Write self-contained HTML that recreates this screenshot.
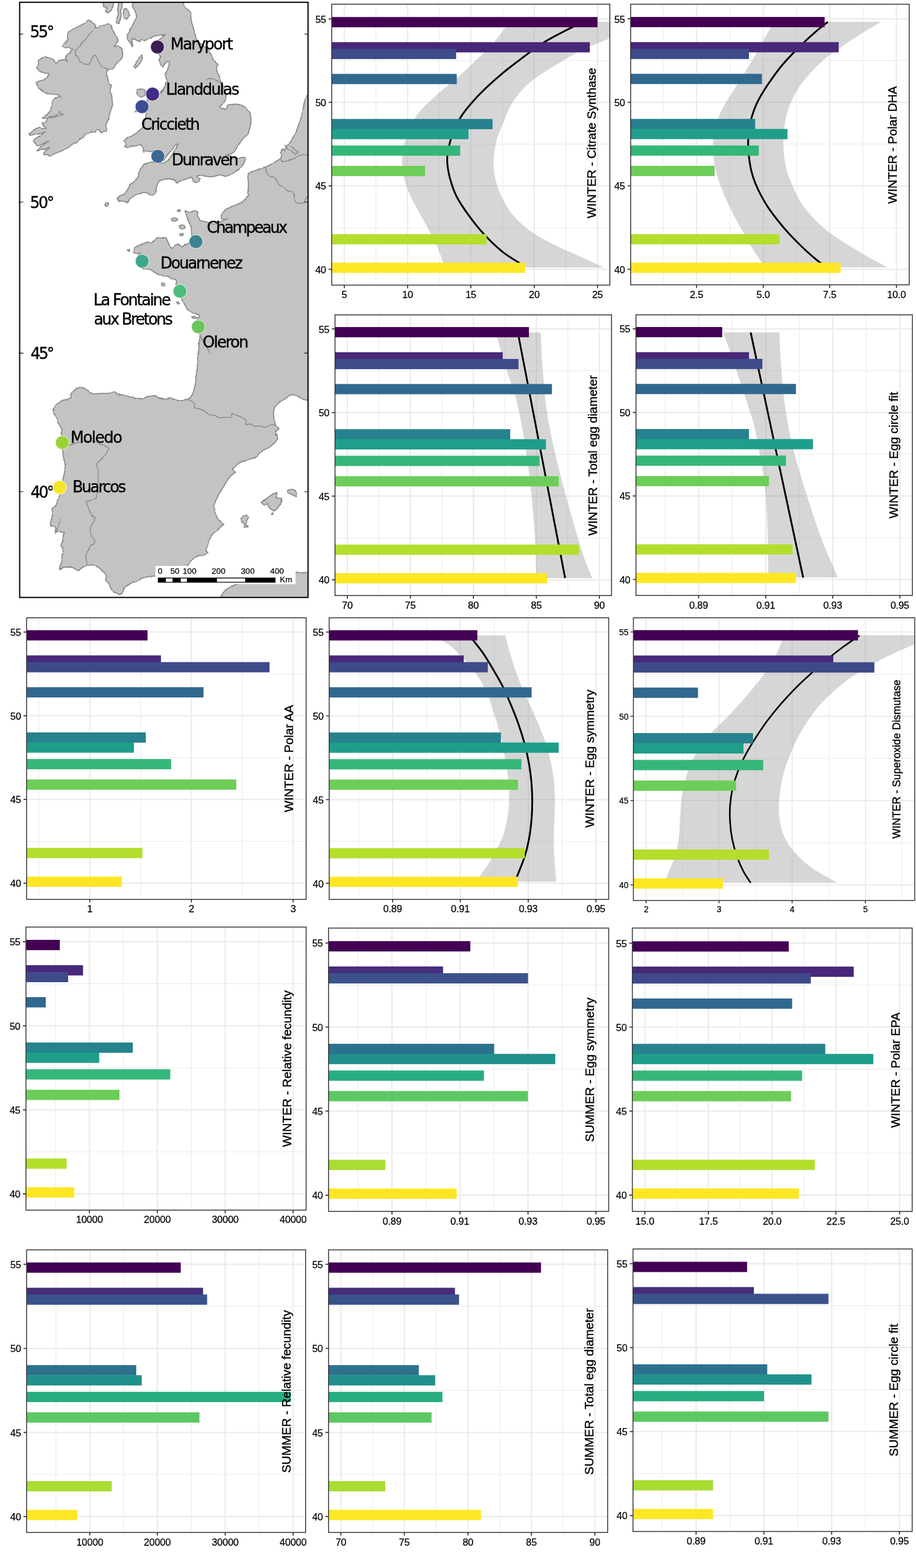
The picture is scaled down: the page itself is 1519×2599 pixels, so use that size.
<!DOCTYPE html>
<html lang="en"><head><meta charset="utf-8"><title>Latitudinal trends figure</title>
<style>html,body{margin:0;padding:0;background:#fff}body{width:1519px;height:2599px;overflow:hidden}svg{display:block}text{white-space:pre}</style></head>
<body>
<svg width="1519" height="2599" viewBox="0 0 1519 2599">
<rect width="1519" height="2599" fill="#fff"/>
<clipPath id="c1"><rect x="550.1" y="6.9" width="461.2" height="465.7"/></clipPath>
<g clip-path="url(#c1)">
<path d="M550.1 377.22H1011.3M550.1 238.85H1011.3M550.1 100.48H1011.3M623.45 6.9V472.6M728.35 6.9V472.6M833.4 6.9V472.6M938.4 6.9V472.6" stroke="#ebebeb" stroke-width="1.1" fill="none"/>
<path d="M550.1 446.4H1011.3M550.1 308.03H1011.3M550.1 169.67H1011.3M550.1 31.3H1011.3M571 6.9V472.6M675.9 6.9V472.6M780.8 6.9V472.6M886 6.9V472.6M990.8 6.9V472.6" stroke="#ebebeb" stroke-width="2.2" fill="none"/>
<path d="M845.37 36.36 C844.25 37.77 843.08 39.19 838.66 44.83 C834.25 50.48 827.66 60.54 818.89 70.25 C810.13 79.96 795.89 93.55 786.06 103.08 C776.24 112.61 770.65 118.03 759.94 127.44 C749.23 136.85 733.46 148.74 721.81 159.57 C710.16 170.39 697.98 181.34 690.04 192.4 C682.1 203.46 677.98 214.46 674.15 225.93 C670.33 237.41 667.98 250.64 667.09 261.24 C666.21 271.83 667.09 280.06 668.86 289.48 C670.62 298.89 673.57 307.72 677.68 317.72 C681.8 327.72 687.98 338.9 693.57 349.49 C699.16 360.08 705.93 371.26 711.22 381.26 C716.52 391.26 721.22 400.09 725.34 409.5 C729.46 418.92 733.7 432.1 735.93 437.75 C738.17 443.39 738.29 442.45 738.76 443.39 L1001.41 443.39 C993.64 439.81 969.63 428.69 954.81 421.86 C939.98 415.04 925.39 409.21 912.44 402.44 C899.5 395.68 887.44 388.91 877.14 381.26 C866.85 373.61 858.02 365.38 850.67 356.55 C843.31 347.73 837.72 337.72 833.01 328.31 C828.31 318.9 824.84 310.07 822.42 300.07 C820.01 290.07 818.36 279.47 818.54 268.3 C818.72 257.12 820.54 244.41 823.48 232.99 C826.42 221.58 832.37 209.34 836.19 199.81 C840.02 190.28 841.84 183.87 846.43 175.8 C851.02 167.74 857.08 158.98 863.73 151.45 C870.38 143.91 877.67 137.27 886.32 130.62 C894.97 123.97 904.97 118.2 915.62 111.55 C926.27 104.91 939.8 96.49 950.22 90.73 C960.63 84.96 966.75 82.37 978.11 76.96 C989.46 71.55 1011.64 65.01 1018.35 58.25 C1025.06 51.48 1018.35 40.01 1018.35 36.36Z" fill="#999999" fill-opacity="0.4" stroke="none"/>
<path d="M968.93 36.36 C965.69 37.77 956.57 41.48 949.51 44.83 C942.45 48.19 934.51 52.25 926.56 56.48 C918.62 60.72 909.74 65.31 901.85 70.25 C893.97 75.19 886.61 80.78 879.26 86.14 C871.91 91.49 865.32 96.55 857.73 102.38 C850.14 108.2 841.66 114.5 833.72 121.09 C825.78 127.68 817.72 134.74 810.07 141.91 C802.42 149.09 794.71 156.62 787.83 164.15 C780.94 171.69 774.35 179.16 768.76 187.1 C763.17 195.04 758.23 202.99 754.29 211.81 C750.35 220.64 747.23 231.11 745.11 240.05 C742.99 249 741.46 256.47 741.58 265.47 C741.7 274.47 743.23 284.06 745.82 294.07 C748.41 304.07 751.88 315.01 757.11 325.49 C762.35 335.96 769.65 346.43 777.24 356.9 C784.83 367.38 793.48 378.38 802.65 388.32 C811.83 398.27 822.89 408.86 832.31 416.56 C841.72 424.27 853.43 430.69 859.14 434.57 C864.84 438.45 865.32 438.98 866.55 439.86" fill="none" stroke="#000" stroke-width="3" stroke-linecap="butt"/>
<rect x="545.1" y="28.23" width="445.7" height="16.94" fill="#440154"/>
<rect x="545.1" y="69.88" width="433" height="16.94" fill="#482878"/>
<rect x="545.1" y="80.95" width="211.3" height="16.94" fill="#3E4A89"/>
<rect x="545.1" y="122.46" width="212.4" height="16.94" fill="#31688E"/>
<rect x="545.1" y="197.17" width="271.7" height="16.94" fill="#26828E"/>
<rect x="545.1" y="213.78" width="231.8" height="16.94" fill="#1F9E89"/>
<rect x="545.1" y="241.17" width="218" height="16.94" fill="#35B779"/>
<rect x="545.1" y="274.94" width="159.8" height="16.94" fill="#6DCD59"/>
<rect x="545.1" y="388.12" width="261.8" height="16.94" fill="#B4DE2C"/>
<rect x="545.1" y="435.44" width="325.7" height="16.94" fill="#FDE725"/>
</g>
<rect x="550.1" y="6.9" width="461.2" height="465.7" fill="none" stroke="#333" stroke-width="1.5"/>
<path d="M544.95 446.4H550.1M544.95 308.03H550.1M544.95 169.67H550.1M544.95 31.3H550.1M571 472.6V477.75M675.9 472.6V477.75M780.8 472.6V477.75M886 472.6V477.75M990.8 472.6V477.75" stroke="#333" stroke-width="1.7" fill="none"/>
<g font-family="'Liberation Sans', Arial, Helvetica, sans-serif" font-size="16.4" fill="#000" stroke="#000" stroke-width="0.25" letter-spacing="-0.2">
<text x="540.8" y="452.71" text-anchor="end">40</text>
<text x="540.8" y="314.35" text-anchor="end">45</text>
<text x="540.8" y="175.98" text-anchor="end">50</text>
<text x="540.8" y="37.61" text-anchor="end">55</text>
<text x="571" y="494.3" text-anchor="middle">5</text>
<text x="675.9" y="494.3" text-anchor="middle">10</text>
<text x="780.8" y="494.3" text-anchor="middle">15</text>
<text x="886" y="494.3" text-anchor="middle">20</text>
<text x="990.8" y="494.3" text-anchor="middle">25</text>
</g>
<text transform="translate(988 237) rotate(-90)" text-anchor="middle" font-family="'Liberation Sans', Arial, Helvetica, sans-serif" font-size="20.4" fill="#000" stroke="#000" stroke-width="0.4">WINTER - Citrate Synthase</text>
<clipPath id="c2"><rect x="1045.8" y="7" width="461.9" height="465.1"/></clipPath>
<g clip-path="url(#c2)">
<path d="M1045.8 377.2H1507.7M1045.8 238.8H1507.7M1045.8 100.4H1507.7M1099.73 7V472.1M1210.35 7V472.1M1320.8 7V472.1M1431.25 7V472.1" stroke="#ebebeb" stroke-width="1.1" fill="none"/>
<path d="M1045.8 446.4H1507.7M1045.8 308H1507.7M1045.8 169.6H1507.7M1045.8 31.2H1507.7M1155 7V472.1M1265.7 7V472.1M1375.9 7V472.1M1486.6 7V472.1" stroke="#ebebeb" stroke-width="2.2" fill="none"/>
<path d="M1281.87 36.29 C1281.29 37.76 1280.7 40.58 1278.35 45.1 C1276 49.62 1271.6 56.55 1267.78 63.42 C1263.96 70.29 1260.15 78.1 1255.45 86.32 C1250.75 94.55 1245.17 103.65 1239.59 112.75 C1234.01 121.85 1227.85 131.54 1221.98 140.94 C1216.1 150.33 1209.64 159.73 1204.36 169.12 C1199.07 178.52 1193.79 187.92 1190.26 197.31 C1186.74 206.71 1184.51 216.1 1183.22 225.5 C1181.93 234.89 1181.93 244.29 1182.51 253.69 C1183.1 263.08 1184.57 272.48 1186.74 281.87 C1188.91 291.27 1192.03 300.67 1195.55 310.06 C1199.07 319.46 1203.48 328.85 1207.88 338.25 C1212.29 347.64 1217.28 357.63 1221.98 366.44 C1226.67 375.24 1231.37 382.88 1236.07 391.1 C1240.77 399.32 1245.47 408.13 1250.16 415.76 C1254.86 423.4 1261.5 432.32 1264.26 436.9 C1267.02 441.48 1266.31 442.19 1266.72 443.25 L1472.14 443.25 C1466.85 440.43 1451.59 432.68 1440.43 426.33 C1429.27 419.99 1416.35 412.24 1405.19 405.19 C1394.04 398.15 1383.17 391.69 1373.48 384.05 C1363.79 376.42 1354.69 367.61 1347.06 359.39 C1339.42 351.17 1333.26 343.53 1327.68 334.73 C1322.1 325.92 1317.58 315.93 1313.58 306.54 C1309.59 297.14 1306.07 288.33 1303.72 278.35 C1301.37 268.37 1300.08 257.21 1299.49 246.64 C1298.9 236.07 1299.02 225.5 1300.2 214.93 C1301.37 204.36 1303.13 193.79 1306.54 183.22 C1309.94 172.65 1314.76 161.49 1320.63 151.51 C1326.5 141.52 1334.14 132.13 1341.77 123.32 C1349.41 114.51 1357.04 106.58 1366.44 98.66 C1375.83 90.73 1386.99 83.39 1398.15 75.75 C1409.3 68.12 1422.81 59.43 1433.38 52.85 C1443.95 46.27 1456.87 39.05 1461.57 36.29Z" fill="#999999" fill-opacity="0.4" stroke="none"/>
<path d="M1372.78 36.29 C1369.37 39.05 1358.98 47.16 1352.34 52.85 C1345.71 58.55 1339.42 64.3 1332.96 70.47 C1326.5 76.63 1319.75 83.39 1313.58 89.85 C1307.42 96.31 1301.55 102.47 1295.97 109.23 C1290.39 115.98 1285.1 123.32 1280.11 130.37 C1275.12 137.41 1270.31 144.46 1266.02 151.51 C1261.73 158.55 1257.62 165.6 1254.39 172.65 C1251.16 179.69 1248.64 186.74 1246.64 193.79 C1244.64 200.84 1243.41 207.88 1242.41 214.93 C1241.41 221.98 1240.77 229.02 1240.65 236.07 C1240.53 243.12 1240.88 249.58 1241.71 257.21 C1242.53 264.84 1243.82 274.24 1245.58 281.87 C1247.34 289.51 1249.52 295.97 1252.28 303.01 C1255.04 310.06 1258.38 317.11 1262.14 324.15 C1265.9 331.2 1270.07 338.25 1274.83 345.3 C1279.58 352.34 1285.04 359.39 1290.68 366.44 C1296.32 373.48 1302.49 380.82 1308.65 387.58 C1314.82 394.33 1321.45 400.91 1327.68 406.96 C1333.9 413 1340.6 419.11 1346 423.87 C1351.4 428.62 1356.22 432.27 1360.09 435.49 C1363.97 438.72 1367.73 441.95 1369.25 443.25" fill="none" stroke="#000" stroke-width="3" stroke-linecap="butt"/>
<rect x="1040.8" y="28.13" width="326.69" height="16.94" fill="#440154"/>
<rect x="1040.8" y="69.79" width="349.95" height="16.94" fill="#482878"/>
<rect x="1040.8" y="80.86" width="201.26" height="16.94" fill="#3E4A89"/>
<rect x="1040.8" y="122.38" width="222.75" height="16.94" fill="#31688E"/>
<rect x="1040.8" y="197.11" width="211.48" height="16.94" fill="#26828E"/>
<rect x="1040.8" y="213.72" width="265.03" height="16.94" fill="#1F9E89"/>
<rect x="1040.8" y="241.13" width="217.47" height="16.94" fill="#35B779"/>
<rect x="1040.8" y="274.89" width="144.18" height="16.94" fill="#6DCD59"/>
<rect x="1040.8" y="388.11" width="252" height="16.94" fill="#B4DE2C"/>
<rect x="1040.8" y="435.44" width="353.12" height="16.94" fill="#FDE725"/>
</g>
<rect x="1045.8" y="7" width="461.9" height="465.1" fill="none" stroke="#333" stroke-width="1.5"/>
<path d="M1040.65 446.4H1045.8M1040.65 308H1045.8M1040.65 169.6H1045.8M1040.65 31.2H1045.8M1155 472.1V477.25M1265.7 472.1V477.25M1375.9 472.1V477.25M1486.6 472.1V477.25" stroke="#333" stroke-width="1.7" fill="none"/>
<g font-family="'Liberation Sans', Arial, Helvetica, sans-serif" font-size="16.4" fill="#000" stroke="#000" stroke-width="0.25" letter-spacing="-0.2">
<text x="1036.5" y="452.71" text-anchor="end">40</text>
<text x="1036.5" y="314.31" text-anchor="end">45</text>
<text x="1036.5" y="175.91" text-anchor="end">50</text>
<text x="1036.5" y="37.51" text-anchor="end">55</text>
<text x="1155" y="493.8" text-anchor="middle">2.5</text>
<text x="1265.7" y="493.8" text-anchor="middle">5.0</text>
<text x="1375.9" y="493.8" text-anchor="middle">7.5</text>
<text x="1486.6" y="493.8" text-anchor="middle">10.0</text>
</g>
<text transform="translate(1487.3 240) rotate(-90)" text-anchor="middle" font-family="'Liberation Sans', Arial, Helvetica, sans-serif" font-size="20.4" fill="#000" stroke="#000" stroke-width="0.4">WINTER - Polar DHA</text>
<clipPath id="c3"><rect x="555.54" y="521.89" width="458.57" height="465.28"/></clipPath>
<g clip-path="url(#c3)">
<path d="M555.54 891.74H1014.11M555.54 753.12H1014.11M555.54 614.5H1014.11M628.26 521.89V987.17M732.76 521.89V987.17M837.25 521.89V987.17M941.74 521.89V987.17" stroke="#ebebeb" stroke-width="1.1" fill="none"/>
<path d="M555.54 961.05H1014.11M555.54 822.43H1014.11M555.54 683.81H1014.11M555.54 545.19H1014.11M576.01 521.89V987.17M680.51 521.89V987.17M785 521.89V987.17M889.5 521.89V987.17M993.99 521.89V987.17" stroke="#ebebeb" stroke-width="2.2" fill="none"/>
<path d="M822.42 551.19 C822.72 552.48 821.25 548.66 824.19 558.95 C827.13 569.25 835.07 596.9 840.07 612.97 C845.08 629.03 849.78 638.85 854.2 655.33 C858.61 671.8 862.73 690.63 866.55 711.81 C870.38 732.99 874.2 758.88 877.14 782.42 C880.08 805.95 882.44 833.02 884.2 853.02 C885.97 873.03 886.85 884.91 887.73 902.44 C888.62 919.98 889.2 948.93 889.5 958.22 L981.99 958.22 C979.52 951.87 972.28 935.27 967.16 920.1 C962.04 904.92 956.87 886.56 951.28 867.14 C945.69 847.73 938.92 823.6 933.63 803.6 C928.33 783.59 923.92 767.12 919.5 747.11 C915.09 727.11 910.38 705.93 907.15 683.57 C903.91 661.21 901.85 635.03 900.09 612.97 C898.32 590.9 897.15 561.48 896.56 551.19Z" fill="#999999" fill-opacity="0.4" stroke="none"/>
<path d="M858.78 551.19 C871.85 619.03 924.09 890.38 937.16 958.22" fill="none" stroke="#000" stroke-width="3" stroke-linecap="butt"/>
<rect x="550.54" y="542.11" width="326.6" height="16.97" fill="#440154"/>
<rect x="550.54" y="583.83" width="283.18" height="16.97" fill="#482878"/>
<rect x="550.54" y="594.92" width="309.3" height="16.97" fill="#3E4A89"/>
<rect x="550.54" y="636.51" width="364.73" height="16.97" fill="#31688E"/>
<rect x="550.54" y="711.36" width="295.54" height="16.97" fill="#26828E"/>
<rect x="550.54" y="728" width="354.84" height="16.97" fill="#1F9E89"/>
<rect x="550.54" y="755.44" width="344.25" height="16.97" fill="#35B779"/>
<rect x="550.54" y="789.27" width="376.03" height="16.97" fill="#6DCD59"/>
<rect x="550.54" y="902.66" width="409.56" height="16.97" fill="#B4DE2C"/>
<rect x="550.54" y="950.07" width="356.61" height="16.97" fill="#FDE725"/>
</g>
<rect x="555.54" y="521.89" width="458.57" height="465.28" fill="none" stroke="#333" stroke-width="1.5"/>
<path d="M550.39 961.05H555.54M550.39 822.43H555.54M550.39 683.81H555.54M550.39 545.19H555.54M576.01 987.17V992.32M680.51 987.17V992.32M785 987.17V992.32M889.5 987.17V992.32M993.99 987.17V992.32" stroke="#333" stroke-width="1.7" fill="none"/>
<g font-family="'Liberation Sans', Arial, Helvetica, sans-serif" font-size="16.4" fill="#000" stroke="#000" stroke-width="0.25" letter-spacing="-0.2">
<text x="546.24" y="967.36" text-anchor="end">40</text>
<text x="546.24" y="828.74" text-anchor="end">45</text>
<text x="546.24" y="690.12" text-anchor="end">50</text>
<text x="546.24" y="551.5" text-anchor="end">55</text>
<text x="576.01" y="1008.87" text-anchor="middle">70</text>
<text x="680.51" y="1008.87" text-anchor="middle">75</text>
<text x="785" y="1008.87" text-anchor="middle">80</text>
<text x="889.5" y="1008.87" text-anchor="middle">85</text>
<text x="993.99" y="1008.87" text-anchor="middle">90</text>
</g>
<text transform="translate(990.11 754.88) rotate(-90)" text-anchor="middle" font-family="'Liberation Sans', Arial, Helvetica, sans-serif" font-size="20.4" fill="#000" stroke="#000" stroke-width="0.4">WINTER - Total egg diameter</text>
<clipPath id="c4"><rect x="1054.61" y="521.85" width="458.4" height="465.09"/></clipPath>
<g clip-path="url(#c4)">
<path d="M1054.61 891.28H1513.01M1054.61 752.81H1513.01M1054.61 614.34H1513.01M1102.94 521.85V986.94M1214.22 521.85V986.94M1325.39 521.85V986.94M1436.55 521.85V986.94" stroke="#ebebeb" stroke-width="1.1" fill="none"/>
<path d="M1054.61 960.51H1513.01M1054.61 822.04H1513.01M1054.61 683.57H1513.01M1054.61 545.1H1513.01M1158.55 521.85V986.94M1269.89 521.85V986.94M1380.88 521.85V986.94M1492.22 521.85V986.94" stroke="#ebebeb" stroke-width="2.2" fill="none"/>
<path d="M1199.07 551.09 C1201.13 556.67 1207 571.94 1211.41 584.56 C1215.81 597.19 1220.8 612.75 1225.5 626.84 C1230.2 640.94 1235.19 655.03 1239.59 669.12 C1244 683.22 1248.11 694.96 1251.92 711.41 C1255.74 727.85 1259.56 750.16 1262.49 767.78 C1265.43 785.4 1267.78 797.14 1269.54 817.11 C1271.3 837.07 1272.3 864.2 1273.07 887.58 C1273.83 910.95 1273.95 945.71 1274.12 957.34 L1389.34 957.34 C1384.93 946.89 1370.55 914.47 1362.91 894.62 C1355.28 874.77 1349.7 857.04 1343.53 838.25 C1337.37 819.46 1331.2 800.08 1325.92 781.87 C1320.63 763.67 1315.93 747.81 1311.82 729.02 C1307.71 710.23 1304.01 689.68 1301.25 669.12 C1298.49 648.57 1296.73 625.38 1295.26 605.7 C1293.79 586.03 1292.91 560.19 1292.44 551.09Z" fill="#999999" fill-opacity="0.4" stroke="none"/>
<path d="M1244.88 551.09 C1259.38 618.8 1317.4 889.63 1331.91 957.34" fill="none" stroke="#000" stroke-width="3" stroke-linecap="butt"/>
<rect x="1049.61" y="542.03" width="148.05" height="16.95" fill="#440154"/>
<rect x="1049.61" y="583.71" width="192.45" height="16.95" fill="#482878"/>
<rect x="1049.61" y="594.78" width="214.64" height="16.95" fill="#3E4A89"/>
<rect x="1049.61" y="636.32" width="270.31" height="16.95" fill="#31688E"/>
<rect x="1049.61" y="711.1" width="192.45" height="16.95" fill="#26828E"/>
<rect x="1049.61" y="727.71" width="298.5" height="16.95" fill="#1F9E89"/>
<rect x="1049.61" y="755.13" width="253.75" height="16.95" fill="#35B779"/>
<rect x="1049.61" y="788.92" width="225.57" height="16.95" fill="#6DCD59"/>
<rect x="1049.61" y="902.19" width="264.68" height="16.95" fill="#B4DE2C"/>
<rect x="1049.61" y="949.54" width="270.31" height="16.95" fill="#FDE725"/>
</g>
<rect x="1054.61" y="521.85" width="458.4" height="465.09" fill="none" stroke="#333" stroke-width="1.5"/>
<path d="M1049.46 960.51H1054.61M1049.46 822.04H1054.61M1049.46 683.57H1054.61M1049.46 545.1H1054.61M1158.55 986.94V992.09M1269.89 986.94V992.09M1380.88 986.94V992.09M1492.22 986.94V992.09" stroke="#333" stroke-width="1.7" fill="none"/>
<g font-family="'Liberation Sans', Arial, Helvetica, sans-serif" font-size="16.4" fill="#000" stroke="#000" stroke-width="0.25" letter-spacing="-0.2">
<text x="1045.31" y="966.83" text-anchor="end">40</text>
<text x="1045.31" y="828.35" text-anchor="end">45</text>
<text x="1045.31" y="689.88" text-anchor="end">50</text>
<text x="1045.31" y="551.41" text-anchor="end">55</text>
<text x="1158.55" y="1008.64" text-anchor="middle">0.89</text>
<text x="1269.89" y="1008.64" text-anchor="middle">0.91</text>
<text x="1380.88" y="1008.64" text-anchor="middle">0.93</text>
<text x="1492.22" y="1008.64" text-anchor="middle">0.95</text>
</g>
<text transform="translate(1489.05 754.39) rotate(-90)" text-anchor="middle" font-family="'Liberation Sans', Arial, Helvetica, sans-serif" font-size="20.4" fill="#000" stroke="#000" stroke-width="0.4">WINTER - Egg circle fit</text>
<clipPath id="c5"><rect x="44.13" y="1024.01" width="463.52" height="466.69"/></clipPath>
<g clip-path="url(#c5)">
<path d="M44.13 1394.5H507.64M44.13 1255.76H507.64M44.13 1117.03H507.64M64.69 1024.01V1490.7M233.17 1024.01V1490.7M401.74 1024.01V1490.7" stroke="#ebebeb" stroke-width="1.1" fill="none"/>
<path d="M44.13 1463.87H507.64M44.13 1325.13H507.64M44.13 1186.4H507.64M44.13 1047.66H507.64M148.97 1024.01V1490.7M317.37 1024.01V1490.7M486.11 1024.01V1490.7" stroke="#ebebeb" stroke-width="2.2" fill="none"/>
<rect x="39.13" y="1044.58" width="205.52" height="16.98" fill="#440154"/>
<rect x="39.13" y="1086.34" width="227.76" height="16.98" fill="#482878"/>
<rect x="39.13" y="1097.44" width="407.8" height="16.98" fill="#3E4A89"/>
<rect x="39.13" y="1139.06" width="298.36" height="16.98" fill="#31688E"/>
<rect x="39.13" y="1213.98" width="202.69" height="16.98" fill="#26828E"/>
<rect x="39.13" y="1230.62" width="182.92" height="16.98" fill="#1F9E89"/>
<rect x="39.13" y="1258.09" width="244.7" height="16.98" fill="#35B779"/>
<rect x="39.13" y="1291.95" width="352.73" height="16.98" fill="#6DCD59"/>
<rect x="39.13" y="1405.43" width="197.04" height="16.98" fill="#B4DE2C"/>
<rect x="39.13" y="1452.88" width="163.15" height="16.98" fill="#FDE725"/>
</g>
<rect x="44.13" y="1024.01" width="463.52" height="466.69" fill="none" stroke="#333" stroke-width="1.5"/>
<path d="M38.98 1463.87H44.13M38.98 1325.13H44.13M38.98 1186.4H44.13M38.98 1047.66H44.13M148.97 1490.7V1495.85M317.37 1490.7V1495.85M486.11 1490.7V1495.85" stroke="#333" stroke-width="1.7" fill="none"/>
<g font-family="'Liberation Sans', Arial, Helvetica, sans-serif" font-size="16.4" fill="#000" stroke="#000" stroke-width="0.25" letter-spacing="-0.2">
<text x="34.83" y="1470.18" text-anchor="end">40</text>
<text x="34.83" y="1331.45" text-anchor="end">45</text>
<text x="34.83" y="1192.71" text-anchor="end">50</text>
<text x="34.83" y="1053.97" text-anchor="end">55</text>
<text x="148.97" y="1512.4" text-anchor="middle">1</text>
<text x="317.37" y="1512.4" text-anchor="middle">2</text>
<text x="486.11" y="1512.4" text-anchor="middle">3</text>
</g>
<text transform="translate(486.46 1257.35) rotate(-90)" text-anchor="middle" font-family="'Liberation Sans', Arial, Helvetica, sans-serif" font-size="20.4" fill="#000" stroke="#000" stroke-width="0.4">WINTER - Polar AA</text>
<clipPath id="c6"><rect x="545.89" y="1024.01" width="463.52" height="466.69"/></clipPath>
<g clip-path="url(#c6)">
<path d="M545.89 1394.8H1009.41M545.89 1255.94H1009.41M545.89 1117.09H1009.41M594.9 1024.01V1490.7M707.22 1024.01V1490.7M819.66 1024.01V1490.7M932.1 1024.01V1490.7" stroke="#ebebeb" stroke-width="1.1" fill="none"/>
<path d="M545.89 1464.22H1009.41M545.89 1325.37H1009.41M545.89 1186.51H1009.41M545.89 1047.66H1009.41M651.09 1024.01V1490.7M763.35 1024.01V1490.7M875.97 1024.01V1490.7M988.23 1024.01V1490.7" stroke="#ebebeb" stroke-width="2.2" fill="none"/>
<path d="M718.87 1052.95 C720.64 1054.25 724.76 1057.78 729.46 1060.72 C734.17 1063.66 740.64 1065.43 747.11 1070.6 C753.59 1075.78 761.24 1084.14 768.3 1091.79 C775.36 1099.43 783.01 1107.08 789.48 1116.5 C795.95 1125.91 802.13 1137.09 807.13 1148.27 C812.13 1159.45 815.66 1171.8 819.48 1183.57 C823.31 1195.34 827.13 1207.11 830.07 1218.87 C833.02 1230.64 835.08 1242.41 837.14 1254.18 C839.19 1265.94 841.25 1277.71 842.43 1289.48 C843.61 1301.24 844.31 1314.19 844.2 1324.78 C844.08 1335.37 843.2 1343.61 841.72 1353.02 C840.25 1362.43 838.19 1372.44 835.37 1381.26 C832.55 1390.09 828.9 1397.74 824.78 1405.97 C820.66 1414.21 815.66 1422.8 810.66 1430.69 C805.66 1438.57 798.3 1448.16 794.77 1453.28 C791.24 1458.4 790.36 1460.05 789.48 1461.4 L922.57 1461.4 C922.04 1455.1 920.1 1435.8 919.39 1423.63 C918.68 1411.45 918.33 1399.5 918.33 1388.32 C918.33 1377.14 919.09 1367.14 919.39 1356.55 C919.68 1345.96 920.27 1335.37 920.1 1324.78 C919.92 1314.19 919.51 1303.6 918.33 1293.01 C917.15 1282.42 915.39 1271.83 913.03 1261.24 C910.68 1250.64 907.74 1240.05 904.21 1229.46 C900.68 1218.87 896.27 1208.28 891.85 1197.69 C887.44 1187.1 882.44 1176.51 877.73 1165.92 C873.03 1155.33 867.73 1144.15 863.61 1134.15 C859.49 1124.15 856.26 1115.32 853.02 1105.91 C849.79 1096.49 846.67 1086.49 844.2 1077.66 C841.72 1068.84 839.19 1057.07 838.19 1052.95Z" fill="#999999" fill-opacity="0.4" stroke="none"/>
<path d="M778.89 1052.95 C779.77 1054.25 780.65 1056.01 784.18 1060.72 C787.71 1065.43 794.48 1073.08 800.07 1081.19 C805.66 1089.31 812.13 1100.02 817.72 1109.44 C823.31 1118.85 828.6 1127.68 833.6 1137.68 C838.61 1147.68 843.31 1158.86 847.73 1169.45 C852.14 1180.04 856.37 1190.63 860.08 1201.22 C863.79 1211.81 867.14 1222.4 869.97 1232.99 C872.79 1243.58 875.14 1254.18 877.03 1264.77 C878.91 1275.36 880.32 1285.95 881.26 1296.54 C882.2 1307.13 882.67 1317.72 882.67 1328.31 C882.67 1338.9 882.2 1349.49 881.26 1360.08 C880.32 1370.67 878.91 1381.85 877.03 1391.85 C875.14 1401.86 873.26 1409.86 869.97 1420.1 C866.67 1430.33 859.79 1446.4 857.26 1453.28 C854.73 1460.16 855.2 1460.05 854.79 1461.4" fill="none" stroke="#000" stroke-width="3" stroke-linecap="butt"/>
<rect x="540.89" y="1044.58" width="250.7" height="17" fill="#440154"/>
<rect x="540.89" y="1086.37" width="228.11" height="17" fill="#482878"/>
<rect x="540.89" y="1097.48" width="268" height="17" fill="#3E4A89"/>
<rect x="540.89" y="1139.14" width="340.72" height="17" fill="#31688E"/>
<rect x="540.89" y="1214.12" width="289.89" height="17" fill="#26828E"/>
<rect x="540.89" y="1230.78" width="385.56" height="17" fill="#1F9E89"/>
<rect x="540.89" y="1258.27" width="323.78" height="17" fill="#35B779"/>
<rect x="540.89" y="1292.15" width="318.13" height="17" fill="#6DCD59"/>
<rect x="540.89" y="1405.74" width="329.43" height="17" fill="#B4DE2C"/>
<rect x="540.89" y="1453.23" width="318.13" height="17" fill="#FDE725"/>
</g>
<rect x="545.89" y="1024.01" width="463.52" height="466.69" fill="none" stroke="#333" stroke-width="1.5"/>
<path d="M540.74 1464.22H545.89M540.74 1325.37H545.89M540.74 1186.51H545.89M540.74 1047.66H545.89M651.09 1490.7V1495.85M763.35 1490.7V1495.85M875.97 1490.7V1495.85M988.23 1490.7V1495.85" stroke="#333" stroke-width="1.7" fill="none"/>
<g font-family="'Liberation Sans', Arial, Helvetica, sans-serif" font-size="16.4" fill="#000" stroke="#000" stroke-width="0.25" letter-spacing="-0.2">
<text x="536.59" y="1470.54" text-anchor="end">40</text>
<text x="536.59" y="1331.68" text-anchor="end">45</text>
<text x="536.59" y="1192.83" text-anchor="end">50</text>
<text x="536.59" y="1053.97" text-anchor="end">55</text>
<text x="651.09" y="1512.4" text-anchor="middle">0.89</text>
<text x="763.35" y="1512.4" text-anchor="middle">0.91</text>
<text x="875.97" y="1512.4" text-anchor="middle">0.93</text>
<text x="988.23" y="1512.4" text-anchor="middle">0.95</text>
</g>
<text transform="translate(984.7 1257.35) rotate(-90)" text-anchor="middle" font-family="'Liberation Sans', Arial, Helvetica, sans-serif" font-size="20.4" fill="#000" stroke="#000" stroke-width="0.4">WINTER - Egg symmetry</text>
<clipPath id="c7"><rect x="1050.38" y="1023.96" width="466.5" height="468.62"/></clipPath>
<g clip-path="url(#c7)">
<path d="M1050.38 1396.97H1516.89M1050.38 1257.21H1516.89M1050.38 1117.45H1516.89M1131.95 1023.96V1492.57M1252.98 1023.96V1492.57M1374.36 1023.96V1492.57M1495.75 1023.96V1492.57" stroke="#ebebeb" stroke-width="0.99" fill="none"/>
<path d="M1050.38 1466.85H1516.89M1050.38 1327.09H1516.89M1050.38 1187.33H1516.89M1050.38 1047.57H1516.89M1071.53 1023.96V1492.57M1192.38 1023.96V1492.57M1313.58 1023.96V1492.57M1435.14 1023.96V1492.57" stroke="#ebebeb" stroke-width="1.98" fill="none"/>
<path d="M1299.49 1052.85 C1297.73 1057.55 1294.21 1070.47 1288.92 1081.04 C1283.64 1091.61 1276 1104.53 1267.78 1116.27 C1259.56 1128.02 1249.58 1139.76 1239.59 1151.51 C1229.61 1163.25 1218.45 1175.58 1207.88 1186.74 C1197.31 1197.9 1185.57 1207.29 1176.17 1218.45 C1166.78 1229.61 1157.97 1241.94 1151.51 1253.69 C1145.05 1265.43 1140.94 1277.18 1137.41 1288.92 C1133.89 1300.67 1132.01 1312.41 1130.37 1324.15 C1128.72 1335.9 1128.43 1347.64 1127.55 1359.39 C1126.67 1371.13 1126.67 1384.05 1125.08 1394.62 C1123.5 1405.19 1121.26 1413.12 1118.03 1422.81 C1114.8 1432.5 1108.35 1446.01 1105.7 1452.76 C1103.06 1459.51 1102.77 1461.57 1102.18 1463.33 L1389.34 1463.33 C1382.58 1459.51 1359.68 1447.77 1348.82 1440.43 C1337.95 1433.09 1331.2 1426.33 1324.15 1419.29 C1317.11 1412.24 1311.24 1405.78 1306.54 1398.15 C1301.84 1390.51 1298.43 1382.29 1295.97 1373.48 C1293.5 1364.67 1292.21 1354.69 1291.74 1345.3 C1291.27 1335.9 1291.86 1327.68 1293.15 1317.11 C1294.44 1306.54 1296.38 1293.62 1299.49 1281.87 C1302.6 1270.13 1306.54 1258.97 1311.82 1246.64 C1317.11 1234.31 1323.86 1220.21 1331.2 1207.88 C1338.54 1195.55 1347.06 1183.22 1355.87 1172.65 C1364.67 1162.08 1374.07 1153.27 1384.05 1144.46 C1394.04 1135.65 1404.61 1127.43 1415.76 1119.8 C1426.92 1112.16 1439.25 1105.12 1451 1098.66 C1462.74 1092.2 1475.25 1086.32 1486.23 1081.04 C1497.21 1075.75 1509.84 1071.64 1516.89 1066.95 C1523.93 1062.25 1526.58 1055.2 1528.51 1052.85Z" fill="#999999" fill-opacity="0.4" stroke="none"/>
<path d="M1425.28 1053.56 C1420.76 1056.67 1406.78 1065.89 1398.15 1072.23 C1389.51 1078.57 1382 1084.56 1373.48 1091.61 C1364.97 1098.66 1355.87 1106.58 1347.06 1114.51 C1338.25 1122.44 1329.15 1130.66 1320.63 1139.18 C1312.12 1147.69 1303.9 1156.5 1295.97 1165.6 C1288.04 1174.7 1280.11 1184.39 1273.07 1193.79 C1266.02 1203.18 1259.73 1212.58 1253.69 1221.98 C1247.64 1231.37 1241.77 1240.77 1236.77 1250.16 C1231.78 1259.56 1227.38 1268.95 1223.74 1278.35 C1220.1 1287.75 1217.1 1297.14 1214.93 1306.54 C1212.76 1315.93 1211.41 1325.33 1210.7 1334.73 C1210 1344.12 1210.11 1353.52 1210.7 1362.91 C1211.29 1372.31 1212.34 1381.7 1214.22 1391.1 C1216.1 1400.5 1218.92 1410.48 1221.98 1419.29 C1225.03 1428.1 1228.73 1436.61 1232.55 1443.95 C1236.36 1451.29 1242.82 1460.1 1244.88 1463.33" fill="none" stroke="#000" stroke-width="2.7" stroke-linecap="butt"/>
<rect x="1045.38" y="1044.46" width="377.43" height="17.11" fill="#440154"/>
<rect x="1045.38" y="1086.53" width="336.55" height="17.11" fill="#482878"/>
<rect x="1045.38" y="1097.71" width="404.56" height="17.11" fill="#3E4A89"/>
<rect x="1045.38" y="1139.64" width="112.11" height="17.11" fill="#31688E"/>
<rect x="1045.38" y="1215.11" width="203.37" height="17.11" fill="#26828E"/>
<rect x="1045.38" y="1231.88" width="187.51" height="17.11" fill="#1F9E89"/>
<rect x="1045.38" y="1259.56" width="220.28" height="17.11" fill="#35B779"/>
<rect x="1045.38" y="1293.66" width="175.18" height="17.11" fill="#6DCD59"/>
<rect x="1045.38" y="1407.99" width="229.79" height="17.11" fill="#B4DE2C"/>
<rect x="1045.38" y="1455.78" width="153.34" height="17.11" fill="#FDE725"/>
</g>
<rect x="1050.38" y="1023.96" width="466.5" height="468.62" fill="none" stroke="#333" stroke-width="1.48"/>
<path d="M1045.68 1466.85H1050.38M1045.68 1327.09H1050.38M1045.68 1187.33H1050.38M1045.68 1047.57H1050.38M1071.53 1492.57V1497.28M1192.38 1492.57V1497.28M1313.58 1492.57V1497.28M1435.14 1492.57V1497.28" stroke="#333" stroke-width="1.53" fill="none"/>
<g font-family="'Liberation Sans', Arial, Helvetica, sans-serif" font-size="14" fill="#000" stroke="#000" stroke-width="0.25" letter-spacing="-0.2">
<text x="1042.01" y="1472.24" text-anchor="end">40</text>
<text x="1042.01" y="1332.48" text-anchor="end">45</text>
<text x="1042.01" y="1192.72" text-anchor="end">50</text>
<text x="1042.01" y="1052.96" text-anchor="end">55</text>
<text x="1071.53" y="1512.1" text-anchor="middle">2</text>
<text x="1192.38" y="1512.1" text-anchor="middle">3</text>
<text x="1313.58" y="1512.1" text-anchor="middle">4</text>
<text x="1435.14" y="1512.1" text-anchor="middle">5</text>
</g>
<text transform="translate(1493.28 1258.27) rotate(-90)" text-anchor="middle" font-family="'Liberation Sans', Arial, Helvetica, sans-serif" font-size="17.7" fill="#000" stroke="#000" stroke-width="0.4">WINTER - Superoxide Dismutase</text>
<clipPath id="c8"><rect x="43.07" y="1536.59" width="464.58" height="469.16"/></clipPath>
<g clip-path="url(#c8)">
<path d="M43.07 1909.26H507.64M43.07 1769.94H507.64M43.07 1630.61H507.64M91.96 1536.59V2005.76M204.58 1536.59V2005.76M317.19 1536.59V2005.76M429.8 1536.59V2005.76" stroke="#ebebeb" stroke-width="1.1" fill="none"/>
<path d="M43.07 1978.93H507.64M43.07 1839.6H507.64M43.07 1700.28H507.64M43.07 1560.95H507.64M148.27 1536.59V2005.76M260.88 1536.59V2005.76M373.5 1536.59V2005.76M486.11 1536.59V2005.76" stroke="#ebebeb" stroke-width="2.2" fill="none"/>
<rect x="38.07" y="1557.86" width="61.13" height="17.05" fill="#440154"/>
<rect x="38.07" y="1599.79" width="99.61" height="17.05" fill="#482878"/>
<rect x="38.07" y="1610.94" width="74.9" height="17.05" fill="#3E4A89"/>
<rect x="38.07" y="1652.74" width="37.83" height="17.05" fill="#31688E"/>
<rect x="38.07" y="1727.97" width="182.22" height="17.05" fill="#26828E"/>
<rect x="38.07" y="1744.69" width="126.44" height="17.05" fill="#1F9E89"/>
<rect x="38.07" y="1772.28" width="244.35" height="17.05" fill="#35B779"/>
<rect x="38.07" y="1806.28" width="159.98" height="17.05" fill="#6DCD59"/>
<rect x="38.07" y="1920.24" width="72.43" height="17.05" fill="#B4DE2C"/>
<rect x="38.07" y="1967.89" width="85.14" height="17.05" fill="#FDE725"/>
</g>
<rect x="43.07" y="1536.59" width="464.58" height="469.16" fill="none" stroke="#333" stroke-width="1.5"/>
<path d="M37.92 1978.93H43.07M37.92 1839.6H43.07M37.92 1700.28H43.07M37.92 1560.95H43.07M148.27 2005.76V2010.91M260.88 2005.76V2010.91M373.5 2005.76V2010.91M486.11 2005.76V2010.91" stroke="#333" stroke-width="1.7" fill="none"/>
<g font-family="'Liberation Sans', Arial, Helvetica, sans-serif" font-size="16.4" fill="#000" stroke="#000" stroke-width="0.25" letter-spacing="-0.2">
<text x="33.77" y="1985.24" text-anchor="end">40</text>
<text x="33.77" y="1845.92" text-anchor="end">45</text>
<text x="33.77" y="1706.59" text-anchor="end">50</text>
<text x="33.77" y="1567.26" text-anchor="end">55</text>
<text x="148.27" y="2027.46" text-anchor="middle">10000</text>
<text x="260.88" y="2027.46" text-anchor="middle">20000</text>
<text x="373.5" y="2027.46" text-anchor="middle">30000</text>
<text x="486.11" y="2027.46" text-anchor="middle">40000</text>
</g>
<text transform="translate(482.58 1771.35) rotate(-90)" text-anchor="middle" font-family="'Liberation Sans', Arial, Helvetica, sans-serif" font-size="20.4" fill="#000" stroke="#000" stroke-width="0.4">WINTER - Relative fecundity</text>
<clipPath id="c9"><rect x="544.83" y="1538.36" width="464.58" height="469.52"/></clipPath>
<g clip-path="url(#c9)">
<path d="M544.83 1911.38H1009.41M544.83 1772.06H1009.41M544.83 1632.73H1009.41M593.67 1538.36V2007.88M706.34 1538.36V2007.88M819.13 1538.36V2007.88M931.92 1538.36V2007.88" stroke="#ebebeb" stroke-width="1.1" fill="none"/>
<path d="M544.83 1981.05H1009.41M544.83 1841.72H1009.41M544.83 1702.39H1009.41M544.83 1563.07H1009.41M650.03 1538.36V2007.88M762.65 1538.36V2007.88M875.61 1538.36V2007.88M988.23 1538.36V2007.88" stroke="#ebebeb" stroke-width="2.2" fill="none"/>
<rect x="539.83" y="1559.98" width="240.11" height="17.05" fill="#440154"/>
<rect x="539.83" y="1601.91" width="194.93" height="17.05" fill="#472D7B"/>
<rect x="539.83" y="1613.06" width="335.78" height="17.05" fill="#3B528B"/>
<rect x="539.83" y="1730.09" width="279.65" height="17.05" fill="#2C728E"/>
<rect x="539.83" y="1746.81" width="380.97" height="17.05" fill="#21908C"/>
<rect x="539.83" y="1774.4" width="262.71" height="17.05" fill="#27AD81"/>
<rect x="539.83" y="1808.39" width="335.78" height="17.05" fill="#5DC863"/>
<rect x="539.83" y="1922.36" width="99.26" height="17.05" fill="#AADC32"/>
<rect x="539.83" y="1970.01" width="217.52" height="17.05" fill="#FDE725"/>
</g>
<rect x="544.83" y="1538.36" width="464.58" height="469.52" fill="none" stroke="#333" stroke-width="1.5"/>
<path d="M539.68 1981.05H544.83M539.68 1841.72H544.83M539.68 1702.39H544.83M539.68 1563.07H544.83M650.03 2007.88V2013.03M762.65 2007.88V2013.03M875.61 2007.88V2013.03M988.23 2007.88V2013.03" stroke="#333" stroke-width="1.7" fill="none"/>
<g font-family="'Liberation Sans', Arial, Helvetica, sans-serif" font-size="16.4" fill="#000" stroke="#000" stroke-width="0.25" letter-spacing="-0.2">
<text x="535.53" y="1987.36" text-anchor="end">40</text>
<text x="535.53" y="1848.03" text-anchor="end">45</text>
<text x="535.53" y="1708.71" text-anchor="end">50</text>
<text x="535.53" y="1569.38" text-anchor="end">55</text>
<text x="650.03" y="2029.58" text-anchor="middle">0.89</text>
<text x="762.65" y="2029.58" text-anchor="middle">0.91</text>
<text x="875.61" y="2029.58" text-anchor="middle">0.93</text>
<text x="988.23" y="2029.58" text-anchor="middle">0.95</text>
</g>
<text transform="translate(984.7 1773.12) rotate(-90)" text-anchor="middle" font-family="'Liberation Sans', Arial, Helvetica, sans-serif" font-size="20.4" fill="#000" stroke="#000" stroke-width="0.4">SUMMER - Egg symmetry</text>
<clipPath id="c10"><rect x="1048.62" y="1538.32" width="464.03" height="469.67"/></clipPath>
<g clip-path="url(#c10)">
<path d="M1048.62 1911.28H1512.66M1048.62 1772.1H1512.66M1048.62 1632.93H1512.66M1122.09 1538.32V2007.99M1227.61 1538.32V2007.99M1333.32 1538.32V2007.99M1439.02 1538.32V2007.99" stroke="#ebebeb" stroke-width="1.1" fill="none"/>
<path d="M1048.62 1980.86H1512.66M1048.62 1841.69H1512.66M1048.62 1702.51H1512.66M1048.62 1563.34H1512.66M1069.41 1538.32V2007.99M1174.76 1538.32V2007.99M1280.46 1538.32V2007.99M1386.17 1538.32V2007.99M1491.87 1538.32V2007.99" stroke="#ebebeb" stroke-width="2.2" fill="none"/>
<rect x="1043.62" y="1560.25" width="264.32" height="17.04" fill="#440154"/>
<rect x="1043.62" y="1602.14" width="372.14" height="17.04" fill="#482878"/>
<rect x="1043.62" y="1613.27" width="300.97" height="17.04" fill="#3E4A89"/>
<rect x="1043.62" y="1655.03" width="269.96" height="17.04" fill="#31688E"/>
<rect x="1043.62" y="1730.18" width="324.93" height="17.04" fill="#26828E"/>
<rect x="1043.62" y="1746.88" width="404.56" height="17.04" fill="#1F9E89"/>
<rect x="1043.62" y="1774.44" width="286.52" height="17.04" fill="#35B779"/>
<rect x="1043.62" y="1808.4" width="268.2" height="17.04" fill="#6DCD59"/>
<rect x="1043.62" y="1922.24" width="307.66" height="17.04" fill="#B4DE2C"/>
<rect x="1043.62" y="1969.84" width="281.24" height="17.04" fill="#FDE725"/>
</g>
<rect x="1048.62" y="1538.32" width="464.03" height="469.67" fill="none" stroke="#333" stroke-width="1.5"/>
<path d="M1043.47 1980.86H1048.62M1043.47 1841.69H1048.62M1043.47 1702.51H1048.62M1043.47 1563.34H1048.62M1069.41 2007.99V2013.14M1174.76 2007.99V2013.14M1280.46 2007.99V2013.14M1386.17 2007.99V2013.14M1491.87 2007.99V2013.14" stroke="#333" stroke-width="1.7" fill="none"/>
<g font-family="'Liberation Sans', Arial, Helvetica, sans-serif" font-size="16.4" fill="#000" stroke="#000" stroke-width="0.25" letter-spacing="-0.2">
<text x="1039.32" y="1987.18" text-anchor="end">40</text>
<text x="1039.32" y="1848" text-anchor="end">45</text>
<text x="1039.32" y="1708.83" text-anchor="end">50</text>
<text x="1039.32" y="1569.65" text-anchor="end">55</text>
<text x="1069.41" y="2029.69" text-anchor="middle">15.0</text>
<text x="1174.76" y="2029.69" text-anchor="middle">17.5</text>
<text x="1280.46" y="2029.69" text-anchor="middle">20.0</text>
<text x="1386.17" y="2029.69" text-anchor="middle">22.5</text>
<text x="1491.87" y="2029.69" text-anchor="middle">25.0</text>
</g>
<text transform="translate(1491.52 1773.69) rotate(-90)" text-anchor="middle" font-family="'Liberation Sans', Arial, Helvetica, sans-serif" font-size="20.4" fill="#000" stroke="#000" stroke-width="0.4">WINTER - Polar EPA</text>
<clipPath id="c11"><rect x="44.13" y="2071.65" width="462.62" height="468.46"/></clipPath>
<g clip-path="url(#c11)">
<path d="M44.13 2443.97H506.74M44.13 2304.64H506.74M44.13 2165.32H506.74M92.79 2071.65V2540.11M204.93 2071.65V2540.11M317.19 2071.65V2540.11M429.8 2071.65V2540.11" stroke="#ebebeb" stroke-width="1.1" fill="none"/>
<path d="M44.13 2513.63H506.74M44.13 2374.31H506.74M44.13 2234.98H506.74M44.13 2095.66H506.74M148.97 2071.65V2540.11M260.88 2071.65V2540.11M373.5 2071.65V2540.11M486.11 2071.65V2540.11" stroke="#ebebeb" stroke-width="2.2" fill="none"/>
<rect x="39.13" y="2092.56" width="260.59" height="17.05" fill="#440154"/>
<rect x="39.13" y="2134.5" width="297.65" height="17.05" fill="#472D7B"/>
<rect x="39.13" y="2145.65" width="304.36" height="17.05" fill="#3B528B"/>
<rect x="39.13" y="2262.68" width="186.81" height="17.05" fill="#2C728E"/>
<rect x="39.13" y="2279.4" width="195.98" height="17.05" fill="#21908C"/>
<rect x="39.13" y="2306.98" width="443.1" height="17.05" fill="#27AD81"/>
<rect x="39.13" y="2340.98" width="291.65" height="17.05" fill="#5DC863"/>
<rect x="39.13" y="2454.95" width="146.21" height="17.05" fill="#AADC32"/>
<rect x="39.13" y="2502.6" width="89.37" height="17.05" fill="#FDE725"/>
</g>
<rect x="44.13" y="2071.65" width="462.62" height="468.46" fill="none" stroke="#333" stroke-width="1.5"/>
<path d="M38.98 2513.63H44.13M38.98 2374.31H44.13M38.98 2234.98H44.13M38.98 2095.66H44.13M148.97 2540.11V2545.26M260.88 2540.11V2545.26M373.5 2540.11V2545.26M486.11 2540.11V2545.26" stroke="#333" stroke-width="1.7" fill="none"/>
<g font-family="'Liberation Sans', Arial, Helvetica, sans-serif" font-size="16.4" fill="#000" stroke="#000" stroke-width="0.25" letter-spacing="-0.2">
<text x="34.83" y="2519.95" text-anchor="end">40</text>
<text x="34.83" y="2380.62" text-anchor="end">45</text>
<text x="34.83" y="2241.29" text-anchor="end">50</text>
<text x="34.83" y="2101.97" text-anchor="end">55</text>
<text x="148.97" y="2561.81" text-anchor="middle">10000</text>
<text x="260.88" y="2561.81" text-anchor="middle">20000</text>
<text x="373.5" y="2561.81" text-anchor="middle">30000</text>
<text x="486.11" y="2561.81" text-anchor="middle">40000</text>
</g>
<text transform="translate(481.52 2306.41) rotate(-90)" text-anchor="middle" font-family="'Liberation Sans', Arial, Helvetica, sans-serif" font-size="20.4" fill="#000" stroke="#000" stroke-width="0.4">SUMMER - Relative fecundity</text>
<clipPath id="c12"><rect x="544.83" y="2071.65" width="462.81" height="468.46"/></clipPath>
<g clip-path="url(#c12)">
<path d="M544.83 2443.97H1007.64M544.83 2304.64H1007.64M544.83 2165.32H1007.64M617.91 2071.65V2540.11M723.29 2071.65V2540.11M828.66 2071.65V2540.11M933.86 2071.65V2540.11" stroke="#ebebeb" stroke-width="1.1" fill="none"/>
<path d="M544.83 2513.63H1007.64M544.83 2374.31H1007.64M544.83 2234.98H1007.64M544.83 2095.66H1007.64M565.31 2071.65V2540.11M670.51 2071.65V2540.11M776.06 2071.65V2540.11M881.26 2071.65V2540.11M986.46 2071.65V2540.11" stroke="#ebebeb" stroke-width="2.2" fill="none"/>
<rect x="539.83" y="2092.56" width="357.32" height="17.05" fill="#440154"/>
<rect x="539.83" y="2134.5" width="214.69" height="17.05" fill="#472D7B"/>
<rect x="539.83" y="2145.65" width="221.4" height="17.05" fill="#3B528B"/>
<rect x="539.83" y="2262.68" width="154.68" height="17.05" fill="#2C728E"/>
<rect x="539.83" y="2279.4" width="181.86" height="17.05" fill="#21908C"/>
<rect x="539.83" y="2306.98" width="193.87" height="17.05" fill="#27AD81"/>
<rect x="539.83" y="2340.98" width="175.86" height="17.05" fill="#5DC863"/>
<rect x="539.83" y="2454.95" width="98.9" height="17.05" fill="#AADC32"/>
<rect x="539.83" y="2502.6" width="257.76" height="17.05" fill="#FDE725"/>
</g>
<rect x="544.83" y="2071.65" width="462.81" height="468.46" fill="none" stroke="#333" stroke-width="1.5"/>
<path d="M539.68 2513.63H544.83M539.68 2374.31H544.83M539.68 2234.98H544.83M539.68 2095.66H544.83M565.31 2540.11V2545.26M670.51 2540.11V2545.26M776.06 2540.11V2545.26M881.26 2540.11V2545.26M986.46 2540.11V2545.26" stroke="#333" stroke-width="1.7" fill="none"/>
<g font-family="'Liberation Sans', Arial, Helvetica, sans-serif" font-size="16.4" fill="#000" stroke="#000" stroke-width="0.25" letter-spacing="-0.2">
<text x="535.53" y="2519.95" text-anchor="end">40</text>
<text x="535.53" y="2380.62" text-anchor="end">45</text>
<text x="535.53" y="2241.29" text-anchor="end">50</text>
<text x="535.53" y="2101.97" text-anchor="end">55</text>
<text x="565.31" y="2561.81" text-anchor="middle">70</text>
<text x="670.51" y="2561.81" text-anchor="middle">75</text>
<text x="776.06" y="2561.81" text-anchor="middle">80</text>
<text x="881.26" y="2561.81" text-anchor="middle">85</text>
<text x="986.46" y="2561.81" text-anchor="middle">90</text>
</g>
<text transform="translate(983.64 2306.41) rotate(-90)" text-anchor="middle" font-family="'Liberation Sans', Arial, Helvetica, sans-serif" font-size="20.4" fill="#000" stroke="#000" stroke-width="0.4">SUMMER - Total egg diameter</text>
<clipPath id="c13"><rect x="1049.68" y="2070.22" width="462.98" height="468.26"/></clipPath>
<g clip-path="url(#c13)">
<path d="M1049.68 2442.47H1512.66M1049.68 2303.29H1512.66M1049.68 2164.12H1512.66M1098.13 2070.22V2538.48M1210.52 2070.22V2538.48M1322.92 2070.22V2538.48M1435.32 2070.22V2538.48" stroke="#ebebeb" stroke-width="1.1" fill="none"/>
<path d="M1049.68 2512.05H1512.66M1049.68 2372.88H1512.66M1049.68 2233.7H1512.66M1049.68 2094.53H1512.66M1154.33 2070.22V2538.48M1266.72 2070.22V2538.48M1379.12 2070.22V2538.48M1491.52 2070.22V2538.48" stroke="#ebebeb" stroke-width="2.2" fill="none"/>
<rect x="1044.68" y="2091.44" width="194.21" height="17.04" fill="#440154"/>
<rect x="1044.68" y="2133.33" width="205.48" height="17.04" fill="#472D7B"/>
<rect x="1044.68" y="2144.47" width="329.15" height="17.04" fill="#3B528B"/>
<rect x="1044.68" y="2261.37" width="227.68" height="17.04" fill="#2C728E"/>
<rect x="1044.68" y="2278.07" width="300.97" height="17.04" fill="#21908C"/>
<rect x="1044.68" y="2305.63" width="222.4" height="17.04" fill="#27AD81"/>
<rect x="1044.68" y="2339.59" width="329.15" height="17.04" fill="#5DC863"/>
<rect x="1044.68" y="2453.43" width="137.83" height="17.04" fill="#AADC32"/>
<rect x="1044.68" y="2501.03" width="137.83" height="17.04" fill="#FDE725"/>
</g>
<rect x="1049.68" y="2070.22" width="462.98" height="468.26" fill="none" stroke="#333" stroke-width="1.5"/>
<path d="M1044.53 2512.05H1049.68M1044.53 2372.88H1049.68M1044.53 2233.7H1049.68M1044.53 2094.53H1049.68M1154.33 2538.48V2543.63M1266.72 2538.48V2543.63M1379.12 2538.48V2543.63M1491.52 2538.48V2543.63" stroke="#333" stroke-width="1.7" fill="none"/>
<g font-family="'Liberation Sans', Arial, Helvetica, sans-serif" font-size="16.4" fill="#000" stroke="#000" stroke-width="0.25" letter-spacing="-0.2">
<text x="1040.38" y="2518.37" text-anchor="end">40</text>
<text x="1040.38" y="2379.19" text-anchor="end">45</text>
<text x="1040.38" y="2240.02" text-anchor="end">50</text>
<text x="1040.38" y="2100.84" text-anchor="end">55</text>
<text x="1154.33" y="2560.18" text-anchor="middle">0.89</text>
<text x="1266.72" y="2560.18" text-anchor="middle">0.91</text>
<text x="1379.12" y="2560.18" text-anchor="middle">0.93</text>
<text x="1491.52" y="2560.18" text-anchor="middle">0.95</text>
</g>
<text transform="translate(1489.05 2304.17) rotate(-90)" text-anchor="middle" font-family="'Liberation Sans', Arial, Helvetica, sans-serif" font-size="20.4" fill="#000" stroke="#000" stroke-width="0.4">SUMMER - Egg circle fit</text>
<clipPath id="mapclip"><rect x="32.6" y="3.8" width="478.2" height="986.5"/></clipPath>
<g clip-path="url(#mapclip)">
<rect x="32.6" y="3.8" width="478.2" height="986.5" fill="#fff"/>
<filter id="rough" x="-5%" y="-5%" width="110%" height="110%" color-interpolation-filters="sRGB"><feTurbulence type="fractalNoise" baseFrequency="0.22" numOctaves="2" seed="7" result="n"/><feDisplacementMap in="SourceGraphic" in2="n" scale="2.6" xChannelSelector="R" yChannelSelector="G"/></filter>
<g filter="url(#rough)">
<path d="M146.21 33.18 L150.62 35.3 L155.91 39.71 L159.44 42.72 L156.8 46.25 L161.21 46.25 L166.5 43.25 L173.56 41.48 L179.74 39.19 L185.04 43.25 L186.8 50.31 L190.33 56.48 L194.75 62.66 L195.63 67.96 L192.1 73.25 L189.8 77.66 L196.51 75.9 L201.81 80.31 L203.57 88.26 L202.69 95.32 L199.16 100.61 L193.86 104.14 L190.33 109.44 L187.68 113.85 L179.74 115.61 L176.21 120.03 L177.62 127.09 L179.74 134.15 L180.98 139.44 L185.04 141.21 L183.27 146.5 L182.39 151.8 L185.04 157.09 L185.92 165.92 L186.96 173.26 L184.25 180.86 L180.99 191.72 L179.9 198.24 L175.56 205.85 L176.64 213.45 L176.64 217.25 L171.21 217.79 L167.95 220.51 L164.69 215.62 L160.35 214.54 L158.18 218.88 L152.75 218.88 L147.31 220.51 L141.88 222.14 L139.71 225.4 L136.45 228.66 L132.11 230.83 L129.93 234.09 L125.59 237.35 L121.24 238.43 L117.99 240.61 L114.73 243.86 L110.38 246.04 L106.04 248.21 L101.69 250.38 L97.35 252.01 L93 253.64 L88.66 255.81 L84.31 257.99 L82.14 259.07 L78.88 255.81 L73.45 256.9 L72.36 253.64 L76.71 249.3 L82.14 243.86 L77.79 246.04 L73.45 247.12 L66.93 248.21 L61.5 250.38 L64.76 246.04 L69.1 241.69 L75.62 237.35 L81.05 234.09 L74.54 236.26 L68.02 239.52 L61.5 241.69 L58.24 237.35 L55.53 234.09 L58.24 230.29 L63.67 226.48 L69.1 223.23 L74.54 218.88 L68.02 221.05 L61.5 222.14 L54.98 223.23 L49.55 224.31 L48.47 222.68 L51.72 219.42 L56.07 215.62 L61.5 212.36 L65.85 210.73 L71.28 213.45 L76.71 212.91 L72.36 209.1 L70.19 204.76 L73.45 202.59 L77.79 200.41 L78.88 196.61 L71.28 196.07 L70.19 195.53 L75.62 191.72 L79.97 187.38 L83.23 184.12 L84.31 179.78 L86.48 175.43 L86.48 170 L88.84 164.15 L95.9 160.62 L101.19 159.74 L95.9 157.09 L87.07 156.21 L78.25 155.33 L71.19 151.8 L65.01 146.5 L61.48 141.21 L59.71 136.8 L65.89 134.15 L72.95 132.38 L79.13 127.09 L80.9 121.79 L72.95 120.91 L65.01 117.38 L60.6 112.08 L64.13 105.91 L63.25 100.61 L67.66 97.08 L74.72 94.43 L81.78 96.2 L88.84 98.85 L93.25 105.91 L95.9 101.49 L102.96 98.85 L110.02 99.73 L111.79 102.38 L108.26 96.2 L111.79 90.02 L117.96 84.73 L121.49 82.08 L115.32 79.43 L107.37 78.55 L102.96 75.9 L108.26 70.6 L112.67 65.31 L111.79 59.13 L113.55 52.95 L120.61 48.54 L127.67 45.01 L134.73 41.48 L141.79 37.95Z M219.46 -1.77 L220.34 5.3 L219.46 10.59 L222.99 15.89 L225.63 22.95 L226.52 29.12 L222.99 35.3 L219.46 42.36 L215.93 49.42 L213.28 54.72 L210.63 58.25 L211.51 65.31 L215.93 70.6 L219.46 77.66 L220.34 74.13 L217.69 67.07 L221.22 63.54 L226.52 67.07 L231.81 68.84 L234.46 65.31 L240.64 67.07 L245.93 65.31 L251.23 61.78 L258.29 59.13 L267.11 58.25 L274.18 57.37 L270.64 60.9 L265.35 64.43 L261.82 68.84 L260.94 77.66 L263.58 88.26 L266.23 95.32 L263.53 98.85 L267.06 107.67 L270.59 111.2 L272.36 105.91 L277.65 101.49 L281.18 102.38 L279.42 109.44 L277.65 116.5 L274.12 121.79 L275 128.85 L277.65 134.15 L275.32 137.07 L272.67 144.13 L270.02 148.54 L266.49 152.07 L271.79 148.54 L268.26 152.95 L264.73 154.72 L262.96 158.25 L257.66 159.13 L250.6 158.25 L245.31 161.78 L242.66 170.6 L242.66 177.66 L232.95 182.96 L223.25 185.61 L225.89 182.08 L232.95 177.66 L240.01 179.43 L242.66 186.49 L241.78 193.55 L240.01 200.61 L238.25 209.44 L232.95 214.73 L229.42 218.26 L224.13 221.79 L218.83 225.32 L211.77 227.97 L205.59 232.38 L209.12 239.44 L206.48 242.97 L211.77 244.74 L217.07 242.97 L222.36 242.09 L227.66 241.21 L232.95 239.44 L235.6 242.97 L238.25 246.5 L237.37 250.92 L243.54 250.03 L250.6 251.8 L254.13 250.03 L259.43 255.33 L264.73 264.15 L271.79 265.92 L274.43 261.51 L278.85 255.33 L285.91 247.39 L291.2 240.33 L294.73 237.33 L294.73 240.33 L289.44 249.15 L284.49 257.98 L279.2 265.04 L273.55 269.8 L264.73 270.69 L257.66 269.45 L250.6 268.57 L243.54 270.33 L238.25 272.98 L232.95 280.04 L230.31 285.34 L229.42 292.4 L225.89 297.69 L220.6 302.99 L215.3 305.63 L213.54 311.81 L210.01 317.11 L204.71 322.4 L197.65 325.05 L194.12 329.46 L197.65 333.88 L202.95 332.99 L208.24 334.76 L211.77 336.52 L215.3 329.46 L220.6 325.93 L225.89 322.4 L232.95 320.64 L240.01 318.87 L245.31 320.64 L250.6 324.17 L255.9 322.4 L258.55 317.11 L259.43 310.05 L262.08 302.99 L264.73 299.46 L271.79 297.69 L278.85 295.93 L285.91 297.69 L291.2 299.46 L292.97 304.75 L296.5 301.22 L303.56 298.57 L310.62 295.93 L317.68 294.16 L319.44 295.04 L320.33 299.46 L324.74 302.99 L330.03 300.34 L331.8 295.93 L326.5 293.28 L326.5 291.51 L333.56 290.63 L342.39 292.4 L349.45 293.28 L358.28 291.51 L365.34 289.75 L374.16 292.4 L381.22 289.75 L386.52 287.1 L391.81 283.57 L397.11 280.04 L401.52 274.75 L405.05 269.45 L406.82 264.15 L405.93 260.62 L398.87 261.51 L391.81 262.39 L384.75 259.74 L379.46 257.98 L374.16 257.09 L382.99 255.33 L388.28 251.8 L391.81 246.5 L394.46 241.21 L399.93 233.62 L404.7 228.15 L411.58 221.97 L414.76 210.32 L416.7 199.2 L414.76 186.84 L407.7 178.9 L400.64 174.31 L391.81 172.37 L382.99 173.25 L377.69 174.13 L375.93 179.43 L372.4 181.19 L367.1 179.43 L364.45 176.78 L368.87 172.37 L374.16 165.31 L375.04 158.25 L373.28 151.19 L370.63 144.13 L367.1 137.95 L365.34 131.77 L364.14 127.09 L360.61 120.03 L358.85 112.97 L361.49 106.79 L354.43 100.61 L350.9 91.79 L346.49 84.73 L339.43 77.66 L330.6 70.6 L325.31 65.31 L323.54 56.48 L320.9 47.66 L318.25 38.83 L316.48 30.01 L316.48 21.18 L312.95 16.77 L308.54 14.12 L303.25 5.3 L302.36 -1.77Z M171.8 -1.77 L189.45 -1.77 L187.68 10.59 L184.15 17.65 L178.86 21.18 L175.33 19.42 L177.09 12.36 L171.8 10.59 L170.92 5.3Z M195.63 -1.77 L201.81 -1.77 L202.69 10.59 L200.04 17.65 L200.92 26.48 L199.16 33.54 L196.51 38.83 L192.98 37.07 L193.86 30.01 L196.51 22.95 L194.75 15.89 L196.51 8.83Z M205.34 15 L209.75 14.12 L213.28 19.42 L214.16 26.48 L210.63 31.77 L206.22 30.01 L204.45 22.95Z M222.1 111.2 L225.63 103.26 L230.93 95.32 L235.34 90.9 L236.23 97.08 L232.7 104.14 L228.28 109.44 L224.75 112.08Z M227.66 148.54 L232.95 147.3 L239.13 148.54 L241.78 152.95 L240.01 158.25 L234.72 160.9 L229.42 159.13 L226.78 154.72Z M173.56 339.73 L176.21 336.2 L179.74 336.2 L179.74 339.73 L176.21 342.38Z M515.8 157 L510.64 157.09 L508.88 158.86 L505.35 165.92 L503.58 174.75 L501.82 185.34 L498.29 197.69 L494.76 208.28 L491.23 218.87 L485.93 227.7 L482.4 234.76 L475.34 241.82 L471.81 249.94 L468.28 247.06 L464.75 252.36 L467.4 257.65 L464.75 262.95 L454.16 270.01 L440.04 277.07 L427.68 281.48 L418.86 284.13 L411.8 287.66 L410.92 292.95 L411.8 301.78 L411.8 310.6 L410.92 319.43 L412.68 323.84 L408.27 328.26 L401.21 335.32 L392.38 339.73 L383.56 342.38 L374.73 346.79 L369.44 352.08 L366.79 357.38 L365.91 361.79 L372.97 363.56 L378.26 361.79 L372.97 364.44 L367.67 366.21 L360.61 368.85 L355.32 371.5 L348.26 369.74 L339.43 367.09 L332.37 366.21 L329.72 361.79 L327.07 356.5 L327.96 351.2 L321.78 349.44 L314.72 352.08 L306.78 349.44 L309.42 356.5 L311.19 363.56 L314.72 370.62 L317.37 377.68 L317.37 384.74 L318.25 390.03 L316.48 397.09 L312.95 404.15 L305.89 405.04 L302.36 409.45 L295.3 404.15 L290.01 406.8 L284.71 412.1 L281.49 407.96 L280.61 405.31 L277.08 398.25 L275.32 393.84 L268.26 394.72 L261.19 393.84 L255.9 398.25 L250.6 402.66 L245.31 400.9 L238.25 403.54 L231.19 406.19 L224.13 409.72 L222.36 414.13 L221.48 418.55 L227.66 420.31 L232.95 419.43 L229.42 424.73 L225.89 428.26 L227.66 435.32 L232.95 442.38 L238.25 445.91 L245.31 445.91 L250.6 447.67 L255.9 450.32 L261.19 454.73 L268.26 456.5 L273.55 458.26 L278.85 457.38 L284.14 461.79 L289.44 462.67 L292.97 465.32 L292.08 470.62 L294.73 475.91 L298.26 486.5 L301.79 497.09 L307.09 505.92 L310.62 512.98 L315.91 516.51 L322.97 520.04 L330.03 521.81 L330.92 526.22 L326.5 527.1 L328.27 534.16 L330.03 546.52 L331.8 555.34 L330.03 569.46 L329.15 589.94 L328.84 582.38 L327.96 596.5 L327.07 610.62 L325.31 624.74 L323.54 638.86 L320.9 649.45 L316.48 658.28 L311.19 661.81 L304.13 663.57 L297.07 664.45 L288.24 661.81 L281.18 659.16 L274.12 661.81 L267.06 660.92 L260 658.28 L274.18 661.81 L263.58 659.16 L256.52 655.63 L245.93 657.39 L235.34 660.92 L224.75 660.04 L214.16 657.39 L205.34 654.75 L196.51 653.86 L190.33 649.45 L178.86 652.1 L166.5 652.1 L155.91 652.98 L148.85 650.33 L143.56 645.92 L136.5 642.39 L131.2 642.39 L125.91 645.04 L120.61 649.45 L117.08 653.86 L117.96 659.16 L111.79 661.81 L102.96 663.57 L97.66 667.98 L92.37 670.63 L88.84 677.69 L88.84 684.75 L92.37 690.05 L95.9 695.34 L95.9 700.64 L99.43 705.93 L102.96 711.23 L101.19 718.29 L102.96 721.82 L103.84 744.71 L104.73 755.3 L107.37 765.89 L108.26 772.95 L106.49 785.31 L103.84 797.66 L100.31 811.79 L98.55 822.38 L95.9 829.44 L92.37 838.26 L86.19 842.67 L87.07 850.62 L86.19 859.44 L83.54 866.5 L84.43 871.8 L90.6 872.68 L92.37 877.09 L91.49 883.27 L95.9 880.62 L101.19 881.51 L106.49 882.39 L104.73 887.68 L103.84 896.51 L101.19 903.57 L103.84 908.87 L104.73 914.16 L102.96 922.99 L102.08 931.81 L99.43 938.87 L98.55 944.17 L104.73 940.64 L111.79 939.76 L120.61 940.64 L129.44 945.93 L136.5 940.64 L143.56 937.11 L152.38 936.23 L159.44 937.99 L166.5 943.29 L173.56 949.46 L176.21 954.76 L175.33 961.82 L180.62 967.11 L184.15 975.94 L189.45 981.24 L198.28 985.65 L203.57 983 L205.34 975.94 L210.63 970.64 L219.46 965.35 L228.28 963.58 L235.34 958.29 L245.93 955.64 L258.29 954.76 L270.64 952.99 L295.3 949.46 L305.89 942.4 L311.19 937.11 L316.48 930.05 L321.78 924.75 L328.84 921.22 L337.66 920.34 L344.73 915.93 L341.19 912.4 L343.84 905.34 L346.49 896.51 L350.02 889.45 L353.55 884.15 L360.61 878.86 L365.91 873.56 L371.2 869.15 L365.91 864.74 L360.61 859.44 L356.2 848.85 L354.43 838.26 L357.96 829.44 L362.38 820.61 L367.67 811.79 L372.97 802.96 L378.26 794.13 L383.56 787.96 L390.62 782.66 L385.32 778.25 L390.62 772.95 L395.91 767.66 L404.74 764.13 L415.33 760.6 L425.92 757.07 L429.45 751.77 L436.51 746.48 L447.1 741.18 L455.93 734.12 L460.34 727.06 L459.46 720 L456.81 721.82 L457.69 714.76 L462.99 710.35 L457.69 705.93 L455.93 700.64 L454.16 691.81 L453.28 682.99 L455.93 674.16 L462.99 667.1 L471.81 661.81 L478.87 656.51 L485.93 653.86 L492.99 656.51 L501.82 661.81 L510.64 663.57 L515.8 664Z M364.14 992.71 L365.91 990.06 L369.44 983 L376.5 975.94 L383.56 972.41 L390.62 968.88 L418.86 960.05 L454.16 952.99 L490.35 948.58 L496.52 949.46 L503.58 949.11 L515.94 949.46 L515.94 992.71Z M432.98 832.97 L440.04 827.67 L447.1 822.38 L454.16 817.96 L459.46 817.08 L457.69 822.38 L460.34 825.91 L466.52 825.91 L467.4 831.2 L462.99 838.26 L459.46 843.56 L454.16 847.09 L448.87 843.56 L445.34 840.03 L443.57 834.73 L438.28 837.38Z M477.11 812.67 L484.17 810.9 L489.46 812.67 L492.11 818.85 L491.23 823.26 L485.93 820.61 L480.64 817.96 L477.11 816.2Z M399.44 859.44 L404.74 855.03 L410.03 853.79 L412.68 856.8 L410.03 861.21 L408.27 865.62 L407.39 870.03 L410.92 871.8 L410.03 873.56 L405.62 873.56 L404.74 868.27 L401.21 864.74Z M450.28 850.62 L452.4 849.74 L452.75 852.38 L450.63 853.27Z M284.14 362.95 L287.67 360.83 L292.97 362.06 L294.73 364.71 L290.32 366.48 L285.91 366.12Z M297.38 374.42 L301.79 372.65 L306.21 374.42 L307.09 377.95 L302.67 379.71 L298.26 377.95Z M293.85 348.83 L297.38 347.94 L299.14 349.71 L295.61 350.94Z M298.26 387.66 L301.79 386.25 L304.44 388.54 L301.79 390.84 L298.62 390.31Z M211.77 414.49 L214.42 413.25 L216.18 415.55 L213.54 416.78Z M267.37 469.74 L270.9 468.85 L274.43 471.5 L272.67 474.15 L268.26 473.27Z M292.97 500.62 L295.61 500.27 L297.38 503.27 L294.73 503.8Z M317.68 525.34 L322.97 524.45 L325.62 526.75 L321.21 527.98Z" fill="#c3c3c2" stroke="#888b8b" stroke-width="1.8" stroke-linejoin="round"/>
<path d="M78.88 194.11 L86.48 193.35 L93 191.72 L96.26 188.47 L98.43 184.12 L100.61 188.47 L106.04 190.1 L100.61 190.64 L95.17 192.81 L88.66 194.77 L82.14 195.2 L78.88 194.11 M154.5 50.31 L151.5 52.95 L147.09 58.25 L143.56 63.54 L136.5 70.6 L132.97 75.9 L125.91 82.96 L124.14 88.26 L129.44 95.32 L132.97 102.38 L140.03 105.91 L147.09 106.79 L150.62 102.38 L154.15 93.55 L157.68 90.9 L161.21 97.08 L164.74 104.14 L168.27 111.2 L175.33 112.97 L179.74 115.61 M367.1 137.95 L361.81 135.3 L354.75 130.89 L347.68 130.01 L341.51 132.65 M311.19 661.81 L318.25 665.34 L322.66 669.75 L321.78 675.93 L330.6 677.69 L339.43 681.22 L346.49 687.4 L355.32 688.28 L364.14 692.7 L372.97 691.81 L383.56 691.81 L384.44 685.63 L392.38 688.28 L401.21 691.81 L408.27 696.23 L407.39 704.17 L415.33 702.4 L422.39 706.82 L431.22 705.93 L440.04 708.58 L448.87 704.17 L455.93 704.17 M103.84 744.71 L110.02 739.42 L118.85 736.77 L129.44 733.24 L143.56 730.59 L157.68 732.36 L170.03 737.65 L178.86 741.18 L180.62 744.71 L175.33 753.54 L168.27 760.6 L161.21 767.66 L159.44 771.19 L162.97 778.25 L162.97 790.6 L162.09 802.96 L161.21 815.32 L159.44 825.91 L150.62 829.44 L141.79 831.2 L145.32 838.26 L148.85 847.09 L152.38 854.15 L157.68 857.68 L155.91 864.74 L150.62 871.8 L149.74 878.86 L150.62 885.92 L154.15 892.98 L157.68 896.51 L155.91 901.81 L150.62 903.57 L147.09 910.63 L143.56 917.69 L141.79 922.99 L143.56 930.05 L144.44 937.11 M440.04 277.07 L441.81 285.89 L447.1 292.95 L454.16 292.95 L459.46 300.01 L462.99 307.07 L471.81 310.6 L475.34 315.9 L484.17 317.66 L488.58 322.96 L487.7 330.02 L491.23 336.2 L498.29 337.08 L505.35 335.32 L507.11 328.26 L510.64 326.49 M464.75 262.95 L468.28 268.24 L477.11 266.48 L487.7 262.95 L496.52 257.65 L503.58 255.89 L510.64 257.65 M471.81 240 L477.11 247.06 L484.17 250.59 L489.46 255.89 L494.76 252.36 L487.7 247.06 L482.4 241.77 M332.37 557.66 L341.19 571.79 L348.26 585.02 M91.49 883.27 L95.9 875.33 L98.55 866.5 L99.43 860.33" fill="none" stroke="#888b8b" stroke-width="1.5" stroke-linejoin="round"/>
</g>
<rect x="257.7" y="938.1" width="232.4" height="30.1" fill="#fff"/>
<rect x="261.77" y="957.41" width="195.04" height="8.3" fill="#000"/>
<rect x="275" y="958.82" width="11.12" height="5.65" fill="#fff"/>
<rect x="299.71" y="958.82" width="10.24" height="5.65" fill="#fff"/>
<rect x="359.73" y="958.82" width="46.78" height="5.65" fill="#fff"/>
<g font-family="'Liberation Sans', Arial, Helvetica, sans-serif" font-size="13.6" fill="#000" stroke="#000" stroke-width="0.25" text-anchor="middle">
<text x="265.65" y="951.23">0</text>
<text x="290.01" y="951.23">50</text>
<text x="314.37" y="951.23">100</text>
<text x="362.38" y="951.23">200</text>
<text x="410.92" y="951.23">300</text>
<text x="459.46" y="951.23">400</text>
<text x="474.28" y="965.35">Km</text>
</g>
</g>
<rect x="32.6" y="3.8" width="478.2" height="986.5" fill="none" stroke="#000" stroke-width="2"/>
<path d="M31.1 56.5H38.6M504.8 56.5H510.8M31.1 335H38.6M504.8 335H510.8M31.1 585.4H38.6M504.8 585.4H510.8M31.1 815H38.6M504.8 815H510.8" stroke="#000" stroke-width="1.1" fill="none"/>
<g font-family="'DejaVu Sans', 'Liberation Sans', sans-serif" font-size="25.8" fill="#000" stroke="#000" stroke-width="0.4">
<text x="282.75" y="82" letter-spacing="-1.84">Maryport</text>
<text x="275.2" y="157.1" letter-spacing="-1.91">Llanddulas</text>
<text x="234.3" y="215.2" letter-spacing="-2.04">Criccieth</text>
<text x="284.8" y="274.1" letter-spacing="-2.24">Dunraven</text>
<text x="342.9" y="386.2" letter-spacing="-2.61">Champeaux</text>
<text x="265.9" y="444.6" letter-spacing="-2.11">Douarnenez</text>
<text x="336.1" y="576.4" letter-spacing="-1.84">Oleron</text>
<text x="155.1" y="506.1" letter-spacing="-2.12">La Fontaine</text>
<text x="155.7" y="537.9" letter-spacing="-2.39">aux Bretons</text>
<text x="116.9" y="733.9" letter-spacing="-1.42">Moledo</text>
<text x="120.3" y="815.7" letter-spacing="-2.4">Buarcos</text>
<text x="49.8" y="61.9" letter-spacing="-2.5">55°</text>
<text x="49.8" y="345" letter-spacing="-2.5">50°</text>
<text x="50.8" y="595.2" letter-spacing="-3">45°</text>
<text x="50.8" y="824.9" letter-spacing="-3">40°</text>
</g>
<circle cx="261" cy="77.9" r="11.4" fill="#3a1d57" stroke="#fff" stroke-width="0.9"/>
<circle cx="253" cy="156" r="11.4" fill="#432a86" stroke="#fff" stroke-width="0.9"/>
<circle cx="235.5" cy="176.8" r="11.4" fill="#3e4c96" stroke="#fff" stroke-width="0.9"/>
<circle cx="261.75" cy="259.1" r="11.4" fill="#3a6891" stroke="#fff" stroke-width="0.9"/>
<circle cx="324.9" cy="400.5" r="11.4" fill="#3b8490" stroke="#fff" stroke-width="0.9"/>
<circle cx="235.8" cy="432.9" r="11.4" fill="#3ea88b" stroke="#fff" stroke-width="0.9"/>
<circle cx="298.4" cy="482.7" r="11.4" fill="#4cbd7b" stroke="#fff" stroke-width="0.9"/>
<circle cx="328.9" cy="541.7" r="11.4" fill="#6bc55c" stroke="#fff" stroke-width="0.9"/>
<circle cx="103.3" cy="733.7" r="11.4" fill="#98d437" stroke="#fff" stroke-width="0.9"/>
<circle cx="99" cy="807.8" r="11.4" fill="#f4e626" stroke="#fff" stroke-width="0.9"/>
</svg>
</body></html>
